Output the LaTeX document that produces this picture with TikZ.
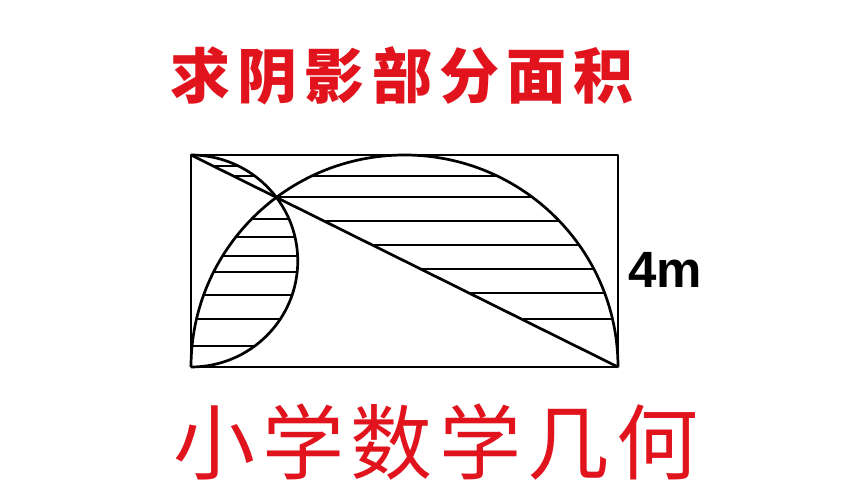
\documentclass[tikz,border=0pt]{standalone}
\usepackage{fontspec}
\setsansfont{Liberation Sans}
\newfontfamily\cjktitle[LetterSpace=12]{Noto Sans CJK SC}
\newfontfamily\cjkbottom[LetterSpace=8]{Noto Sans CJK SC}
\usetikzlibrary{positioning}
\definecolor{titlered}{RGB}{225,20,30}

\begin{document}
\begin{tikzpicture}[x=53.375pt,y=53pt,
    outline/.style={line width=2.7pt, line join=round},
    hatchline/.style={line width=2.1pt},
    redtitle/.style={text=titlered, inner sep=0pt}]
  \useasboundingbox[fill=white] (-191pt,-119pt) rectangle (673pt,367pt);

  % hatching: big part above the diagonal
  \begin{scope}
    \clip (1.6,3.2) -- (8,0) arc[start angle=0,end angle=126.87,radius=4] -- cycle;
    \foreach \h in {3.6,3.2,2.75,2.3,1.85,1.4,0.9}
      \draw[hatchline] (0,\h) -- (8,\h);
  \end{scope}
  % hatching: small corner piece
  \begin{scope}
    \clip (0,4) -- (1.6,3.2) arc[start angle=36.87,end angle=90,radius=2] -- cycle;
    \foreach \h in {3.8,3.6}
      \draw[hatchline] (0,\h) -- (8,\h);
  \end{scope}
  % hatching: left lens
  \begin{scope}
    \clip (0,0) arc[start angle=180,end angle=126.87,radius=4]
      arc[start angle=36.87,end angle=-90,radius=2] -- cycle;
    \foreach \h in {2.8,2.45,2.1,1.8,1.35,0.9,0.4}
      \draw[hatchline] (0,\h) -- (8,\h);
  \end{scope}

  % outlines
  \draw[outline] (0,0) rectangle (8,4);
  \draw[outline] (0,4) -- (8,0);
  \draw[outline] (8,0) arc[start angle=0,end angle=180,radius=4];
  \draw[outline] (0,4) arc[start angle=90,end angle=-90,radius=2];

  % texts
  \node[redtitle, font=\cjktitle\bfseries\fontsize{60}{60}\selectfont] (title) at (211pt,291pt) {求阴影部分面积};
  \node[redtitle, font=\cjkbottom\fontsize{82}{82}\selectfont] (subtitle) at (245pt,-75pt) {小学数学几何};
  \node[inner sep=0pt, font=\sffamily\bfseries\fontsize{51}{51}\selectfont] (side) at (474pt,97pt) {4m};
\end{tikzpicture}
\end{document}
